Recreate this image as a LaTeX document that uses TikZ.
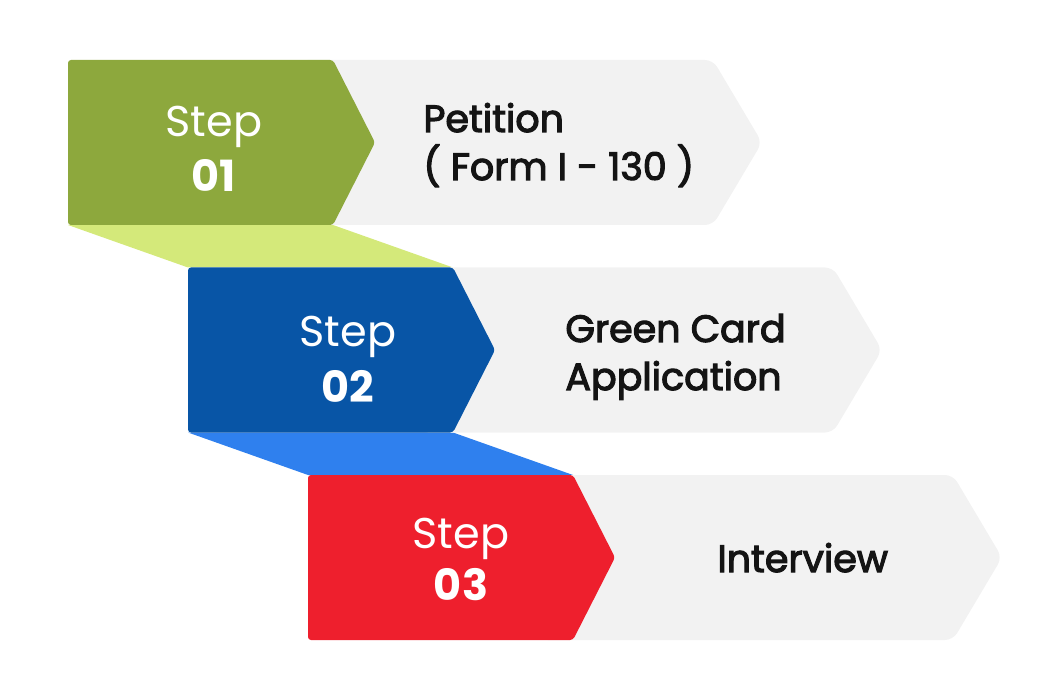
\documentclass[tikz,border=0pt]{standalone}
\usepackage{fontspec}
\setmainfont{Poppins}
\newfontfamily\titlefont[FakeBold=3]{Poppins}
\usetikzlibrary{positioning}
\definecolor{s1col}{RGB}{141,168,61}
\definecolor{s1lite}{RGB}{212,233,122}
\definecolor{s2col}{RGB}{8,85,166}
\definecolor{s2lite}{RGB}{47,128,238}
\definecolor{s3col}{RGB}{238,31,45}
\definecolor{panelcol}{RGB}{242,242,242}

\begin{document}
\begin{tikzpicture}[
  x=0.5pt, y=-0.5pt,
  panelShape/.style={fill=panelcol, rounded corners=4pt},
  stepShape/.style={rounded corners=1.5pt},
  stepWord/.style={text=white, anchor=base, inner sep=0pt,
                   font=\fontsize{21.5}{26}\selectfont},
  stepNum/.style={text=white, anchor=base, inner sep=0pt,
                  font=\fontsize{21.5}{26}\selectfont\bfseries},
  stepTitle/.style={text=black!92, anchor=base west, inner sep=0pt,
                    font=\titlefont\fontsize{19}{24}\selectfont},
]
\useasboundingbox (0,0) rectangle (1042,699);

% --- Connector bands between steps ---
\fill[s1lite] (68,225) -- (333,225) -- (453,267.5) -- (188,267.5) -- cycle;
\fill[s2lite] (188,432.5) -- (453,432.5) -- (573,475) -- (308,475) -- cycle;

% --- Grey panels ---
\fill[panelShape] (300,60) -- (713,60) -- (762,142.5) -- (713,225) -- (300,225) -- cycle;
\fill[panelShape] (420,267.5) -- (833,267.5) -- (882,350) -- (833,432.5) -- (420,432.5) -- cycle;
\fill[panelShape] (540,475) -- (953,475) -- (1002,557.5) -- (953,640) -- (540,640) -- cycle;

% --- Coloured step blocks ---
\fill[s1col, stepShape] (68,60) -- (333,60) -- (375,142.5) -- (333,225) -- (68,225) -- cycle;
\fill[s2col, stepShape] (188,267.5) -- (453,267.5) -- (495,350) -- (453,432.5) -- (188,432.5) -- cycle;
\fill[s3col, stepShape] (308,475) -- (573,475) -- (615,557.5) -- (573,640) -- (308,640) -- cycle;

% --- Step labels ---
\node[stepWord] (word1) at (214,137) {Step};
\node[stepNum] (num1) at (214,192) {01};
\node[stepWord] (word2) at (348,347) {Step};
\node[stepNum] (num2) at (348,402) {02};
\node[stepWord] (word3) at (461,548) {Step};
\node[stepNum] (num3) at (461,600) {03};

% --- Step titles ---
\node[stepTitle] (title1a) at (423,132) {Petition};
\node[stepTitle] (title1b) at (423,180) {( Form I - 130 )};
\node[stepTitle] (title2a) at (565,342) {Green Card};
\node[stepTitle] (title2b) at (565,390) {Application};
\node[stepTitle] (title3) at (717,572) {Interview};

\end{tikzpicture}
\end{document}
